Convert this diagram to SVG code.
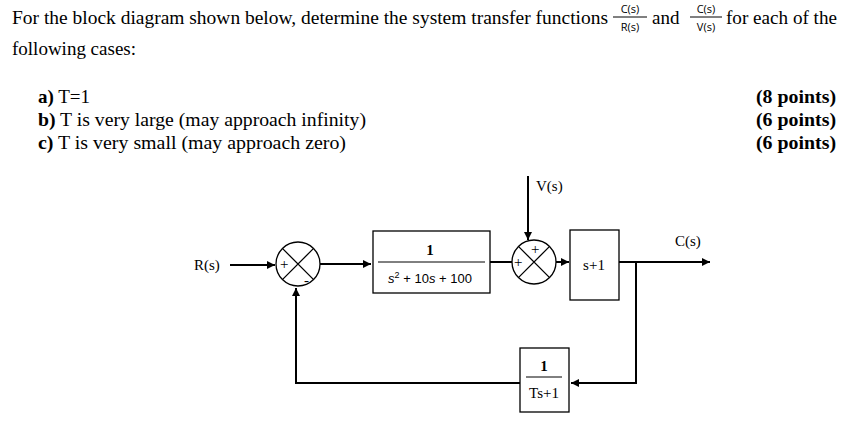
<svg xmlns="http://www.w3.org/2000/svg" width="866" height="427" viewBox="0 0 866 427">
<defs>
<style>
.t{font-family:"Liberation Serif",serif;font-size:19px;fill:#000}
.b{font-weight:bold}
.f{font-family:"Open Sans","Liberation Sans",sans-serif;font-size:11px;fill:#000}
.s{font-family:"Liberation Serif",serif;font-size:15px;fill:#000}
.ln{stroke:#000;stroke-width:2;fill:none}
.bx{stroke:#000;stroke-width:1.3;fill:#fff}
</style>
<marker id="a" viewBox="0 0 10 10" refX="10" refY="5" markerWidth="4" markerHeight="4" orient="auto"><path d="M0,0L10,5L0,10z" fill="#000"/></marker>
</defs>
<rect width="866" height="427" fill="#fff"/>
<text class="t" x="12" y="24" textLength="596" lengthAdjust="spacingAndGlyphs">For the block diagram shown below, determine the system transfer functions</text>
<text class="f" x="630" y="13" text-anchor="middle">C(s)</text>
<line x1="613" y1="17" x2="647" y2="17" stroke="#000"/>
<text class="f" x="630" y="31" text-anchor="middle">R(s)</text>
<text class="t" x="652" y="24">and</text>
<text class="f" x="706" y="13" text-anchor="middle">C(s)</text>
<line x1="690" y1="17" x2="722" y2="17" stroke="#000"/>
<text class="f" x="706" y="31" text-anchor="middle">V(s)</text>
<text class="t" x="726" y="24" textLength="111" lengthAdjust="spacingAndGlyphs">for each of the</text>
<text class="t" x="12" y="55" textLength="124" lengthAdjust="spacingAndGlyphs">following cases:</text>
<text class="t" x="38" y="103"><tspan class="b">a)</tspan>  T=1</text>
<text class="t" x="38" y="126" textLength="328" lengthAdjust="spacingAndGlyphs"><tspan class="b">b)</tspan>  T is very large (may approach infinity)</text>
<text class="t" x="38" y="149" textLength="308" lengthAdjust="spacingAndGlyphs"><tspan class="b">c)</tspan>  T is very small (may approach zero)</text>
<text class="t b" x="836" y="103" text-anchor="end" textLength="80" lengthAdjust="spacingAndGlyphs">(8 points)</text>
<text class="t b" x="836" y="126" text-anchor="end" textLength="80" lengthAdjust="spacingAndGlyphs">(6 points)</text>
<text class="t b" x="836" y="149" text-anchor="end" textLength="80" lengthAdjust="spacingAndGlyphs">(6 points)</text>

<g id="connectors">
<line class="ln" x1="230" y1="265" x2="275" y2="265" marker-end="url(#a)"/>
<line class="ln" x1="320" y1="264" x2="371" y2="264" marker-end="url(#a)"/>
<line class="ln" x1="490" y1="262" x2="512" y2="262"/>
<line class="ln" x1="528" y1="176" x2="528" y2="240" marker-end="url(#a)"/>
<line class="ln" x1="556" y1="262" x2="569" y2="262" marker-end="url(#a)"/>
<line class="ln" x1="619" y1="262" x2="710" y2="262" marker-end="url(#a)"/>
<polyline class="ln" points="636,262 636,383 571,383" marker-end="url(#a)"/>
<polyline class="ln" points="520,383 296,383 296,288" stroke-width="1.3" marker-end="url(#a)"/>
</g>
<g id="R"><text class="s" x="194" y="270">R(s)</text></g>
<g id="V"><text class="s" x="536" y="191">V(s)</text></g>
<g id="C"><text class="s" x="675" y="246">C(s)</text></g>
<g id="sum1">
<circle class="bx" cx="298" cy="264" r="22"/>
<path d="M282.4,248.4L313.6,279.6M313.6,248.4L282.4,279.6" stroke="#000" stroke-width="1.3"/>
<text class="s" x="280" y="269" font-size="11">+</text>
<text class="s" x="304" y="285" font-size="11">-</text>
</g>
<g id="G1">
<rect class="bx" x="373" y="231" width="117" height="62"/>
<text class="s" x="430" y="255" text-anchor="middle" font-weight="bold">1</text>
<line x1="378" y1="262" x2="485" y2="262" stroke="#000"/>
<text x="430" y="283" text-anchor="middle" font-family="Liberation Sans,sans-serif" font-size="13"><tspan font-style="italic">s</tspan><tspan dy="-5" font-size="9">2</tspan><tspan dy="5"> + 10</tspan><tspan font-style="italic">s</tspan> + 100</text>
</g>
<g id="sum2">
<circle class="bx" cx="534" cy="262" r="22"/>
<path d="M518.4,246.4L549.6,277.6M549.6,246.4L518.4,277.6" stroke="#000" stroke-width="1.3"/>
<text class="s" x="531" y="254" font-size="11">+</text>
<text class="s" x="514" y="267" font-size="11">+</text>
</g>
<g id="G2">
<rect class="bx" x="570" y="230" width="49" height="70"/>
<text class="s" x="594" y="270" text-anchor="middle">s+1</text>
</g>
<g id="H">
<rect class="bx" x="520" y="348" width="49" height="64"/>
<text class="s" x="544" y="371" text-anchor="middle" font-weight="bold">1</text>
<line x1="526" y1="377" x2="562" y2="377" stroke="#000"/>
<text class="s" x="544" y="398" text-anchor="middle">Ts+1</text>
</g>
</svg>
